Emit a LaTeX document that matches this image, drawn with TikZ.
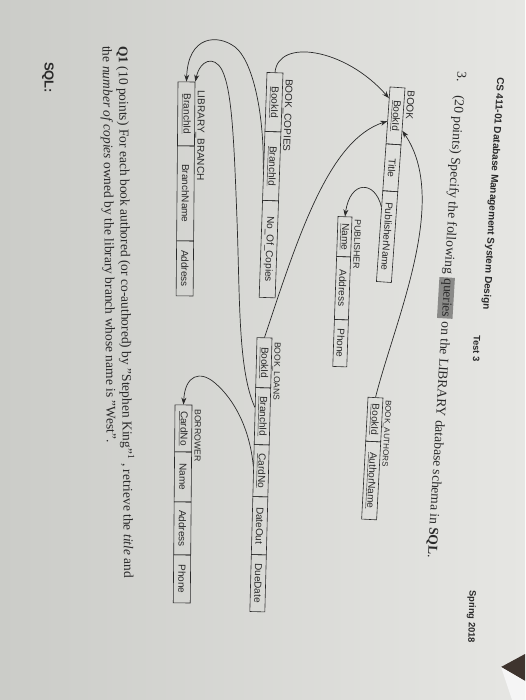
\documentclass[tikz,border=0pt]{standalone}
\usepackage{fontspec}
\setmainfont{Liberation Serif}
\setsansfont{Liberation Sans}
\usetikzlibrary{arrows.meta,calc}
\definecolor{bgL}{RGB}{203,204,200}
\definecolor{bgR}{RGB}{230,230,227}
\definecolor{ink}{RGB}{42,42,42}
\definecolor{hlgray}{RGB}{138,138,136}
\definecolor{cornerc}{RGB}{62,52,46}
\newcommand{\fs}[1]{\fontsize{#1}{#1}\selectfont}
\tikzset{
  cell/.style={draw=ink, line width=0.6pt, inner sep=0pt, text=ink, font=\sffamily},
  lbl/.style={inner sep=0pt, text=ink, anchor=base west},
  txt/.style={inner sep=0pt, text=ink, anchor=west},
  conn/.style={draw=ink, line width=0.7pt, -{Stealth[length=7pt,width=5pt]}}
}
\begin{document}
\begin{tikzpicture}[x=1pt,y=-1pt]
\useasboundingbox (0,0) rectangle (525,700);
\shade[left color=bgL, right color=bgR] (0,0) rectangle (525,700);
% dark corner
\fill[cornerc] (501,667) -- (525,654) -- (525,681) -- cycle;
\fill[white!92!gray] (501,667) -- (525,681) -- (525,700) -- (512,700) -- cycle;

% header lines
\node[txt, rotate=-93.5, font=\sffamily\bfseries\fs{10}] (hdr) at (500,77) {CS 411-01 Database Management System Design};
\node[txt, rotate=-92, font=\sffamily\bfseries\fs{9.3}] (test) at (477,335) {Test 3};
\node[txt, rotate=-91.5, font=\sffamily\bfseries\fs{9.3}] (spring) at (472,590) {Spring 2018};
\node[txt, rotate=-93.4, font=\fs{13.5}] (qnum) at (462,72) {3.};
\node[txt, rotate=-93.4, font=\fs{13.5}] (qtext) at (458,95) {(20 points) Specify the following {\setlength{\fboxsep}{1pt}\colorbox{hlgray}{\strut queries}} on the LIBRARY database schema in \textbf{SQL}.};

% BOOK
\begin{scope}[shift={(405,88)}, rotate=-94, transform shape]
  \tikzset{every node/.append style={font=\sffamily\fs{8.5}}}
  \node[lbl, font=\sffamily\fs{10}] (book-lbl) at (2,-3) {BOOK};
  \node[cell, minimum width=57pt, minimum height=15pt] (book-id) at (28.5,7.5) {\underline{BookId}};
  \node[cell, minimum width=47pt, minimum height=15pt] (book-title) at (80.5,7.5) {Title};
  \node[cell, minimum width=91pt, minimum height=15pt] (book-pub) at (149.5,7.5) {PublisherName};
\end{scope}

% BOOK_AUTHORS
\begin{scope}[shift={(383,398)}, rotate=-93, transform shape]
  \tikzset{every node/.append style={font=\sffamily\fs{7.5}}}
  \node[lbl, font=\sffamily\fs{8}] (auth-lbl) at (2,-3) {BOOK\_AUTHORS};
  \node[cell, minimum width=44pt, minimum height=15pt] (auth-id) at (22,7.5) {\underline{BookId}};
  \node[cell, minimum width=78pt, minimum height=15pt] (auth-name) at (83,7.5) {\underline{AuthorName}};
\end{scope}

% PUBLISHER
\begin{scope}[shift={(352,217)}, rotate=-92, transform shape]
  \tikzset{every node/.append style={font=\sffamily\fs{8}}}
  \node[lbl, font=\sffamily\fs{8.8}] (pub-lbl) at (2,-3) {PUBLISHER};
  \node[cell, minimum width=40pt, minimum height=14pt] (pub-name) at (20,7) {\underline{Name}};
  \node[cell, minimum width=63pt, minimum height=14pt] (pub-addr) at (71.5,7) {Address};
  \node[cell, minimum width=47pt, minimum height=14pt] (pub-phone) at (126.5,7) {Phone};
\end{scope}

% BOOK_COPIES
\begin{scope}[shift={(283,73)}, rotate=-92, transform shape]
  \tikzset{every node/.append style={font=\sffamily\fs{8.5}}}
  \node[lbl, font=\sffamily\fs{10}] (copies-lbl) at (6,-3) {BOOK\_COPIES};
  \node[cell, minimum width=59pt, minimum height=16pt] (copies-id) at (29.5,8) {\underline{BookId}};
  \node[cell, minimum width=69pt, minimum height=16pt] (copies-br) at (93.5,8) {\underline{BranchId}};
  \node[cell, minimum width=97pt, minimum height=16pt] (copies-no) at (176.5,8) {No\_Of\_Copies};
\end{scope}

% BOOK_LOANS
\begin{scope}[shift={(272,338)}, rotate=-91.5, transform shape]
  \tikzset{every node/.append style={font=\sffamily\fs{7.5}}}
  \node[lbl, font=\sffamily\fs{8.5}] (loan-lbl) at (4,-3) {BOOK\_LOANS};
  \node[cell, minimum width=50pt, minimum height=15pt] (loan-id) at (25,7.5) {\underline{BookId}};
  \node[cell, minimum width=57pt, minimum height=15pt] (loan-br) at (78.5,7.5) {\underline{BranchId}};
  \node[cell, minimum width=52pt, minimum height=15pt] (loan-card) at (133,7.5) {\underline{CardNo}};
  \node[cell, minimum width=58pt, minimum height=15pt] (loan-out) at (188,7.5) {DateOut};
  \node[cell, minimum width=57pt, minimum height=15pt] (loan-due) at (245.5,7.5) {DueDate};
\end{scope}

% LIBRARY_BRANCH
\begin{scope}[shift={(195,82)}, rotate=-90.5, transform shape]
  \tikzset{every node/.append style={font=\sffamily\fs{8.5}}}
  \node[lbl, font=\sffamily\fs{10}] (lib-lbl) at (8,-3) {LIBRARY\_BRANCH};
  \node[cell, minimum width=64pt, minimum height=17pt] (lib-id) at (32,8.5) {\underline{BranchId}};
  \node[cell, minimum width=95pt, minimum height=17pt] (lib-name) at (111.5,8.5) {BranchName};
  \node[cell, minimum width=55pt, minimum height=17pt] (lib-addr) at (186.5,8.5) {Address};
\end{scope}

% BORROWER
\begin{scope}[shift={(192,405)}, rotate=-90.5, transform shape]
  \tikzset{every node/.append style={font=\sffamily\fs{7.5}}}
  \node[lbl, font=\sffamily\fs{8.7}] (bor-lbl) at (4,-3) {BORROWER};
  \node[cell, minimum width=47pt, minimum height=17pt] (bor-card) at (23.5,8.5) {\underline{CardNo}};
  \node[cell, minimum width=50pt, minimum height=17pt] (bor-name) at (72,8.5) {Name};
  \node[cell, minimum width=53pt, minimum height=17pt] (bor-addr) at (123.5,8.5) {Address};
  \node[cell, minimum width=48pt, minimum height=17pt] (bor-phone) at (174,8.5) {Phone};
\end{scope}

% connectors
\draw[conn] (copies-id.west) .. controls (278,38) and (345,48) .. ($(book-id.south west)!0.2!(book-id.south east)$);
\draw[conn] (loan-id.west) .. controls (300,230) and (330,140) .. ($(book-id.south west)!0.6!(book-id.south east)$);
\draw[conn] (auth-id.west) .. controls (395,320) and (450,200) .. ($(book-id.north west)!0.75!(book-id.north east)$);
\draw[conn] ($(book-pub.south west)!0.18!(book-pub.south east)$) .. controls (375,180) and (350,180) .. (pub-name.west);
\draw[conn] ($(copies-br.south west)!0.55!(copies-br.south east)$) .. controls (264,110) and (252,60) .. (235,47) .. controls (218,34) and (188,35) .. (lib-id.west);
\draw[conn] ($(loan-br.south west)!0.35!(loan-br.south east)$) .. controls (238,370) and (240,300) .. (237,220) .. controls (234,140) and (232,90) .. (222,70) .. controls (214,55) and (200,60) .. (lib-id.north west);
\draw[conn] ($(loan-card.south west)!0.42!(loan-card.south east)$) .. controls (250,430) and (235,400) .. (215,383) .. controls (200,370) and (185,375) .. (bor-card.west);

% question
\node[txt, rotate=-89.4, font=\fs{13.5}] (q1a) at (123,46) {\textbf{Q1} (10 points) For each book authored (or co-authored) by "Stephen King"\textsuperscript{1} , retrieve the \textit{title} and};
\node[txt, rotate=-89.4, font=\fs{13.5}] (q1b) at (106,46) {the \textit{number of copies} owned by the library branch whose name is "West".};
\node[txt, rotate=-90, font=\sffamily\bfseries\fs{13}] (sql) at (48,62) {SQL:};
\end{tikzpicture}
\end{document}
